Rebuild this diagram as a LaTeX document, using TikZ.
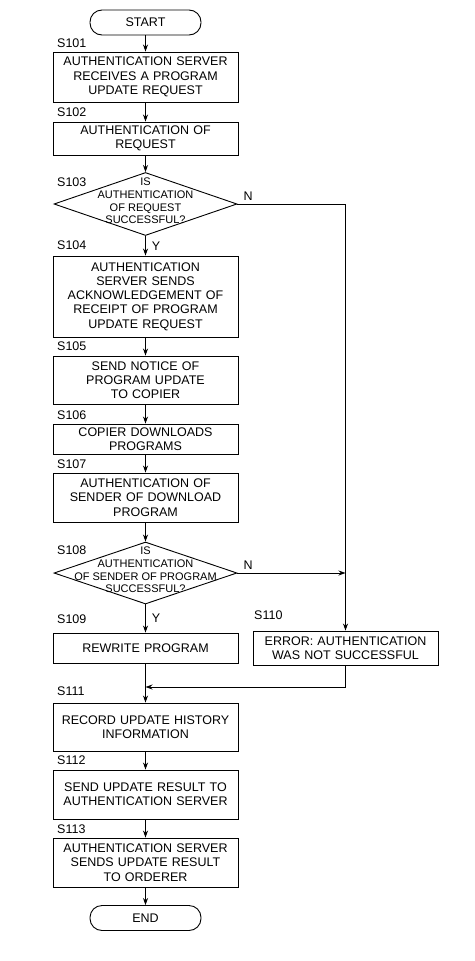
\documentclass[tikz,border=0pt]{standalone}
\usepackage{fontspec}
\setmainfont{Liberation Sans}
\usetikzlibrary{shapes.geometric, arrows.meta}

\begin{document}
\begin{tikzpicture}[
  x=1pt, y=-1pt,
  every node/.style={font=\fontsize{12.5}{14.3}\selectfont},
  term/.style={rectangle, draw, rounded corners=12pt, minimum width=111pt,
               minimum height=25pt, inner sep=0pt, line width=0.9pt},
  box/.style={rectangle, draw, minimum width=185pt, text width=182pt,
              align=center, inner sep=0pt, line width=0.9pt},
  decision/.style={diamond, draw, minimum width=183pt, minimum height=63pt,
                   inner sep=0pt, line width=0.9pt},
  dectext/.style={font=\fontsize{11}{12.6}\selectfont, align=center,
                  inner sep=0pt, yshift=3pt},
  steplbl/.style={anchor=west, inner sep=0pt},
  yn/.style={inner sep=1pt},
  arrow/.style={-{Stealth[length=7pt, width=5pt]}, line width=0.9pt}
]
\useasboundingbox (0,0) rectangle (474,961);

% main column
\node[term] (start) at (145.5,22.5) {START};
\node[box, minimum height=50pt] (b101) at (145.5,77) {AUTHENTICATION SERVER\\RECEIVES A PROGRAM\\UPDATE REQUEST};
\node[box, minimum height=33pt] (b102) at (145.5,138.5) {AUTHENTICATION OF\\REQUEST};
\node[decision, label={[dectext]center:{IS\\AUTHENTICATION\\OF REQUEST\\SUCCESSFUL?}}] (d103) at (145.5,204) {};
\node[box, minimum height=81pt] (b104) at (145.5,296.5) {AUTHENTICATION\\SERVER SENDS\\ACKNOWLEDGEMENT OF\\RECEIPT OF PROGRAM\\UPDATE REQUEST};
\node[box, minimum height=48pt] (b105) at (145.5,380) {SEND NOTICE OF\\PROGRAM UPDATE\\TO COPIER};
\node[box, minimum height=30pt] (b106) at (145.5,439) {COPIER DOWNLOADS\\PROGRAMS};
\node[box, minimum height=49pt] (b107) at (145.5,497.5) {AUTHENTICATION OF\\SENDER OF DOWNLOAD\\PROGRAM};
\node[decision, minimum height=62pt, label={[dectext]center:{IS\\AUTHENTICATION\\OF SENDER OF PROGRAM\\SUCCESSFUL?}}] (d108) at (145.5,573) {};
\node[box, minimum height=30pt] (b109) at (145.5,648) {REWRITE PROGRAM};
\node[box, minimum height=34pt] (b110) at (345.5,648) {ERROR: AUTHENTICATION\\WAS NOT SUCCESSFUL};
\node[box, minimum height=48pt] (b111) at (145.5,727) {RECORD UPDATE HISTORY\\INFORMATION};
\node[box, minimum height=49pt] (b112) at (145.5,794.5) {SEND UPDATE RESULT TO\\AUTHENTICATION SERVER};
\node[box, minimum height=49pt] (b113) at (145.5,862.5) {AUTHENTICATION SERVER\\SENDS UPDATE RESULT\\TO ORDERER};
\node[term] (end) at (145.5,918) {END};

% step labels
\node[steplbl] (s101) at (57,43) {S101};
\node[steplbl] (s102) at (57,112) {S102};
\node[steplbl] (s103) at (57,182) {S103};
\node[steplbl] (s104) at (57,245) {S104};
\node[steplbl] (s105) at (57,346) {S105};
\node[steplbl] (s106) at (57,415) {S106};
\node[steplbl] (s107) at (57,464) {S107};
\node[steplbl] (s108) at (57,550) {S108};
\node[steplbl] (s109) at (57,619) {S109};
\node[steplbl] (s110) at (254,615) {S110};
\node[steplbl] (s111) at (57,691) {S111};
\node[steplbl] (s112) at (57,760) {S112};
\node[steplbl] (s113) at (57,829) {S113};

% junctions
\coordinate (j108) at (345.5,573);
\coordinate (j111) at (145.5,687);

% connectors
\draw[arrow] (start) -- (b101);
\draw[arrow] (b101) -- (b102);
\draw[arrow] (b102) -- (d103);
\draw[arrow] (d103) -- node[yn, right=5pt]{Y} (b104);
\draw[arrow] (d103.east) -| node[yn, pos=0.05, above=2pt]{N} (b110.north);
\draw[arrow] (b104) -- (b105);
\draw[arrow] (b105) -- (b106);
\draw[arrow] (b106) -- (b107);
\draw[arrow] (b107) -- (d108);
\draw[arrow] (d108.east) -- node[yn, pos=0.1, above=2pt]{N} (j108);
\draw[arrow] (d108) -- node[yn, right=5pt]{Y} (b109);
\draw[arrow] (b109) -- (b111);
\draw[arrow] (b110.south) |- (j111);
\draw[arrow] (b111) -- (b112);
\draw[arrow] (b112) -- (b113);
\draw[arrow] (b113) -- (end);
\end{tikzpicture}
\end{document}
